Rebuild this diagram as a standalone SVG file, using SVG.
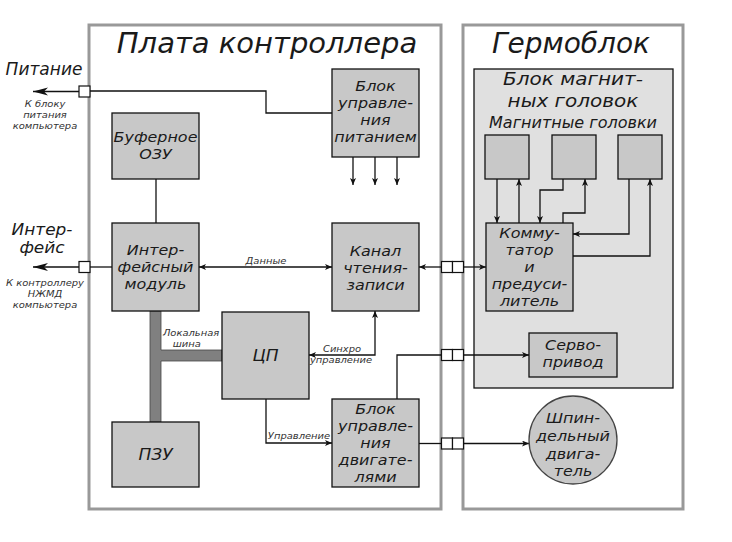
<svg xmlns="http://www.w3.org/2000/svg" width="732" height="542" viewBox="0 0 732 542">
<defs>
<style>
text{font-family:"DejaVu Sans","Liberation Sans",sans-serif;font-style:italic;fill:#1a1a1a;text-anchor:middle}
.t{font-size:14.5px}
.big{font-size:29px}
.out{font-size:17px}
.sm{font-size:9.2px;fill:#333}
.frame{fill:#fff;stroke:#999;stroke-width:3}
.box{fill:#c8c8c8;stroke:#111;stroke-width:1.3}
.sq{fill:#fff;stroke:#111;stroke-width:1.2}
.ln{fill:none;stroke:#111;stroke-width:1.3}
.a{marker-end:url(#ar)}
.ab{marker-start:url(#ar);marker-end:url(#ar)}
</style>
<marker id="ar" markerUnits="userSpaceOnUse" markerWidth="9" markerHeight="7" refX="7" refY="3" orient="auto-start-reverse" viewBox="0 0 9 7">
<path d="M0,0 L7,3 L0,6 L1.8,3 z" fill="#111"/>
</marker>
<marker id="big" markerUnits="userSpaceOnUse" markerWidth="17" markerHeight="10" refX="15" refY="4" orient="auto" viewBox="0 0 17 10">
<path d="M0,0 L15,4 L0,8 L4,4 z" fill="#111"/>
</marker>
</defs>
<rect width="732" height="542" fill="#fff"/>

<g id="plata">
<rect class="frame" x="89" y="25" width="352" height="484"/>
<text class="big" x="267" y="53">Плата контроллера</text>
</g>
<g id="germoblok">
<rect class="frame" x="463" y="25" width="220" height="484"/>
<text class="big" x="571" y="53" style="font-size:28px">Гермоблок</text>
</g>
<g id="blok-golovok">
<rect x="474" y="69" width="199" height="319" fill="#e0e0e0" stroke="#111" stroke-width="1.3"/>
<g transform="matrix(1.08,0,0,1,-45.84,0)">
<text x="573" y="85" style="font-size:18.5px">Блок магнит-</text>
<text x="573" y="107" style="font-size:18.5px">ных головок</text>
</g>
<text x="573" y="128" style="font-size:16px">Магнитные головки</text>
</g>

<g id="ext-labels">
<text class="out" x="44" y="75">Питание</text>
<g transform="matrix(1.08,0,0,1,-3.6,0)">
<text class="sm" x="45" y="107">К блоку</text>
<text class="sm" x="45" y="118">питания</text>
<text class="sm" x="45" y="129">компьютера</text>
</g>
<g transform="matrix(1.13,0,0,1,-5.46,0)">
<text class="out" x="42" y="235" style="font-size:15px">Интер-</text>
<text class="out" x="42" y="253" style="font-size:15px">фейс</text>
</g>
<g transform="matrix(1.08,0,0,1,-3.6,0)">
<text class="sm" x="45" y="286">К контроллеру</text>
<text class="sm" x="45" y="297">НЖМД</text>
<text class="sm" x="45" y="308">компьютера</text>
</g>
</g>

<g id="bus">
<path d="M150,311 H161 V350 H222 V361 H161 V422 H150 Z" fill="#808080" stroke="#444" stroke-width="0.8"/>
<g transform="matrix(1.08,0,0,1,-15.2,0)">
<text class="sm" x="191" y="336">Локальная</text>
<text class="sm" x="187" y="347">шина</text>
</g>
</g>

<g id="connectors">
<path class="ln" d="M79,91.5 H33" marker-end="url(#big)"/>
<path class="ln" d="M79,267 H33" marker-end="url(#big)"/>
<path class="ln" d="M112,267 H90"/>
<path class="ln" d="M90,91 H266 V113 H332"/>
<path class="ln a" d="M353,157 V185"/>
<path class="ln a" d="M375,157 V185"/>
<path class="ln a" d="M397,157 V185"/>
<path class="ln" d="M156,179 V223"/>
<path class="ln ab" d="M199,267 H332"/>
<path class="ln a" d="M441.5,267 H419"/>
<path class="ln a" d="M463.5,267 H486"/>
<path class="ln a" d="M497,179 V223"/>
<path class="ln a" d="M519,223 V179"/>
<path class="ln a" d="M563,179 V190 H540 V223"/>
<path class="ln a" d="M563,223 V213 H585 V179"/>
<path class="ln a" d="M629,179 V234 H573"/>
<path class="ln a" d="M573,256 H650 V179"/>
<path class="ln ab" d="M309,355 H375 V311"/>
<path class="ln a" d="M266,399 V443 H332"/>
<path class="ln" d="M397,399 V355 H441.5"/>
<path class="ln a" d="M463.5,355 H529"/>
<path class="ln" d="M419,443.5 H441.5"/>
<path class="ln a" d="M463.5,443.5 H529"/>
<rect class="sq" x="79" y="86" width="11" height="11"/>
<rect class="sq" x="79" y="261.5" width="11" height="11"/>
<rect class="sq" x="441.5" y="261.5" width="11" height="11"/>
<rect class="sq" x="452.5" y="261.5" width="11" height="11"/>
<rect class="sq" x="441.5" y="349.5" width="11" height="11"/>
<rect class="sq" x="452.5" y="349.5" width="11" height="11"/>
<rect class="sq" x="441.5" y="438" width="11" height="11"/>
<rect class="sq" x="452.5" y="438" width="11" height="11"/>
<g transform="matrix(1.08,0,0,1,-21.28,0)">
<text class="sm" x="266" y="264">Данные</text>
</g>
<g transform="matrix(1.08,0,0,1,-27.3,0)">
<text class="sm" x="342" y="352">Синхро</text>
<text class="sm" x="341" y="363">управление</text>
</g>
<g transform="matrix(1.08,0,0,1,-23.92,0)">
<text class="sm" x="299" y="439">Управление</text>
</g>
</g>

<g id="blok-pitaniya">
<rect class="box" x="332" y="69" width="87" height="88"/>
<g transform="matrix(1.1,0,0,1,-37.55,0)">
<text class="t" x="375.5" y="91">Блок</text>
<text class="t" x="375.5" y="108">управле-</text>
<text class="t" x="375.5" y="125">ния</text>
<text class="t" x="375.5" y="142">питанием</text>
</g>
</g>
<g id="bufer">
<rect class="box" x="112" y="113" width="87" height="66"/>
<g transform="matrix(1.1,0,0,1,-15.55,0)">
<text class="t" x="155.5" y="142">Буферное</text>
<text class="t" x="155.5" y="159">ОЗУ</text>
</g>
</g>
<g id="interface">
<rect class="box" x="112" y="223" width="87" height="88"/>
<g transform="matrix(1.1,0,0,1,-15.55,0)">
<text class="t" x="155.5" y="255">Интер-</text>
<text class="t" x="155.5" y="272">фейсный</text>
<text class="t" x="155.5" y="289">модуль</text>
</g>
</g>
<g id="kanal">
<rect class="box" x="332" y="223" width="87" height="88"/>
<g transform="matrix(1.1,0,0,1,-37.55,0)">
<text class="t" x="375.5" y="256">Канал</text>
<text class="t" x="375.5" y="273">чтения-</text>
<text class="t" x="375.5" y="290">записи</text>
</g>
</g>
<g id="cpu">
<rect class="box" x="222" y="312" width="87" height="87"/>
<g transform="matrix(1.1,0,0,1,-26.55,0)">
<text class="t" x="265.5" y="361" style="font-size:15.5px">ЦП</text>
</g>
</g>
<g id="pzu">
<rect class="box" x="112" y="422" width="87" height="65"/>
<g transform="matrix(1.1,0,0,1,-15.55,0)">
<text class="t" x="155.5" y="460" style="font-size:15.5px">ПЗУ</text>
</g>
</g>
<g id="blok-dvig">
<rect class="box" x="332" y="399" width="87" height="88"/>
<g transform="matrix(1.1,0,0,1,-37.55,0)">
<text class="t" x="375.5" y="414">Блок</text>
<text class="t" x="375.5" y="431">управле-</text>
<text class="t" x="375.5" y="448">ния</text>
<text class="t" x="375.5" y="465">двигате-</text>
<text class="t" x="375.5" y="482">лями</text>
</g>
</g>
<g id="head1"><rect class="box" x="485" y="135" width="44" height="44"/></g>
<g id="head2"><rect class="box" x="552" y="135" width="44" height="44"/></g>
<g id="head3"><rect class="box" x="618" y="135" width="44" height="44"/></g>
<g id="kommutator">
<rect class="box" x="486" y="223" width="87" height="88"/>
<g transform="matrix(1.1,0,0,1,-52.95,0)">
<text class="t" x="529.5" y="238">Комму-</text>
<text class="t" x="529.5" y="255">татор</text>
<text class="t" x="529.5" y="272">и</text>
<text class="t" x="529.5" y="289">предуси-</text>
<text class="t" x="529.5" y="306">литель</text>
</g>
</g>
<g id="servo">
<rect class="box" x="529" y="333" width="88" height="44"/>
<g transform="matrix(1.1,0,0,1,-57.3,0)">
<text class="t" x="573" y="350">Серво-</text>
<text class="t" x="573" y="367">привод</text>
</g>
</g>
<g id="spindle">
<circle cx="573" cy="440" r="44" fill="#c8c8c8" stroke="#444" stroke-width="1.3"/>
<g transform="matrix(1.1,0,0,1,-57.3,0)">
<text class="t" x="573" y="423">Шпин-</text>
<text class="t" x="573" y="441">дельный</text>
<text class="t" x="573" y="459">двига-</text>
<text class="t" x="573" y="476">тель</text>
</g>
</g>
</svg>
